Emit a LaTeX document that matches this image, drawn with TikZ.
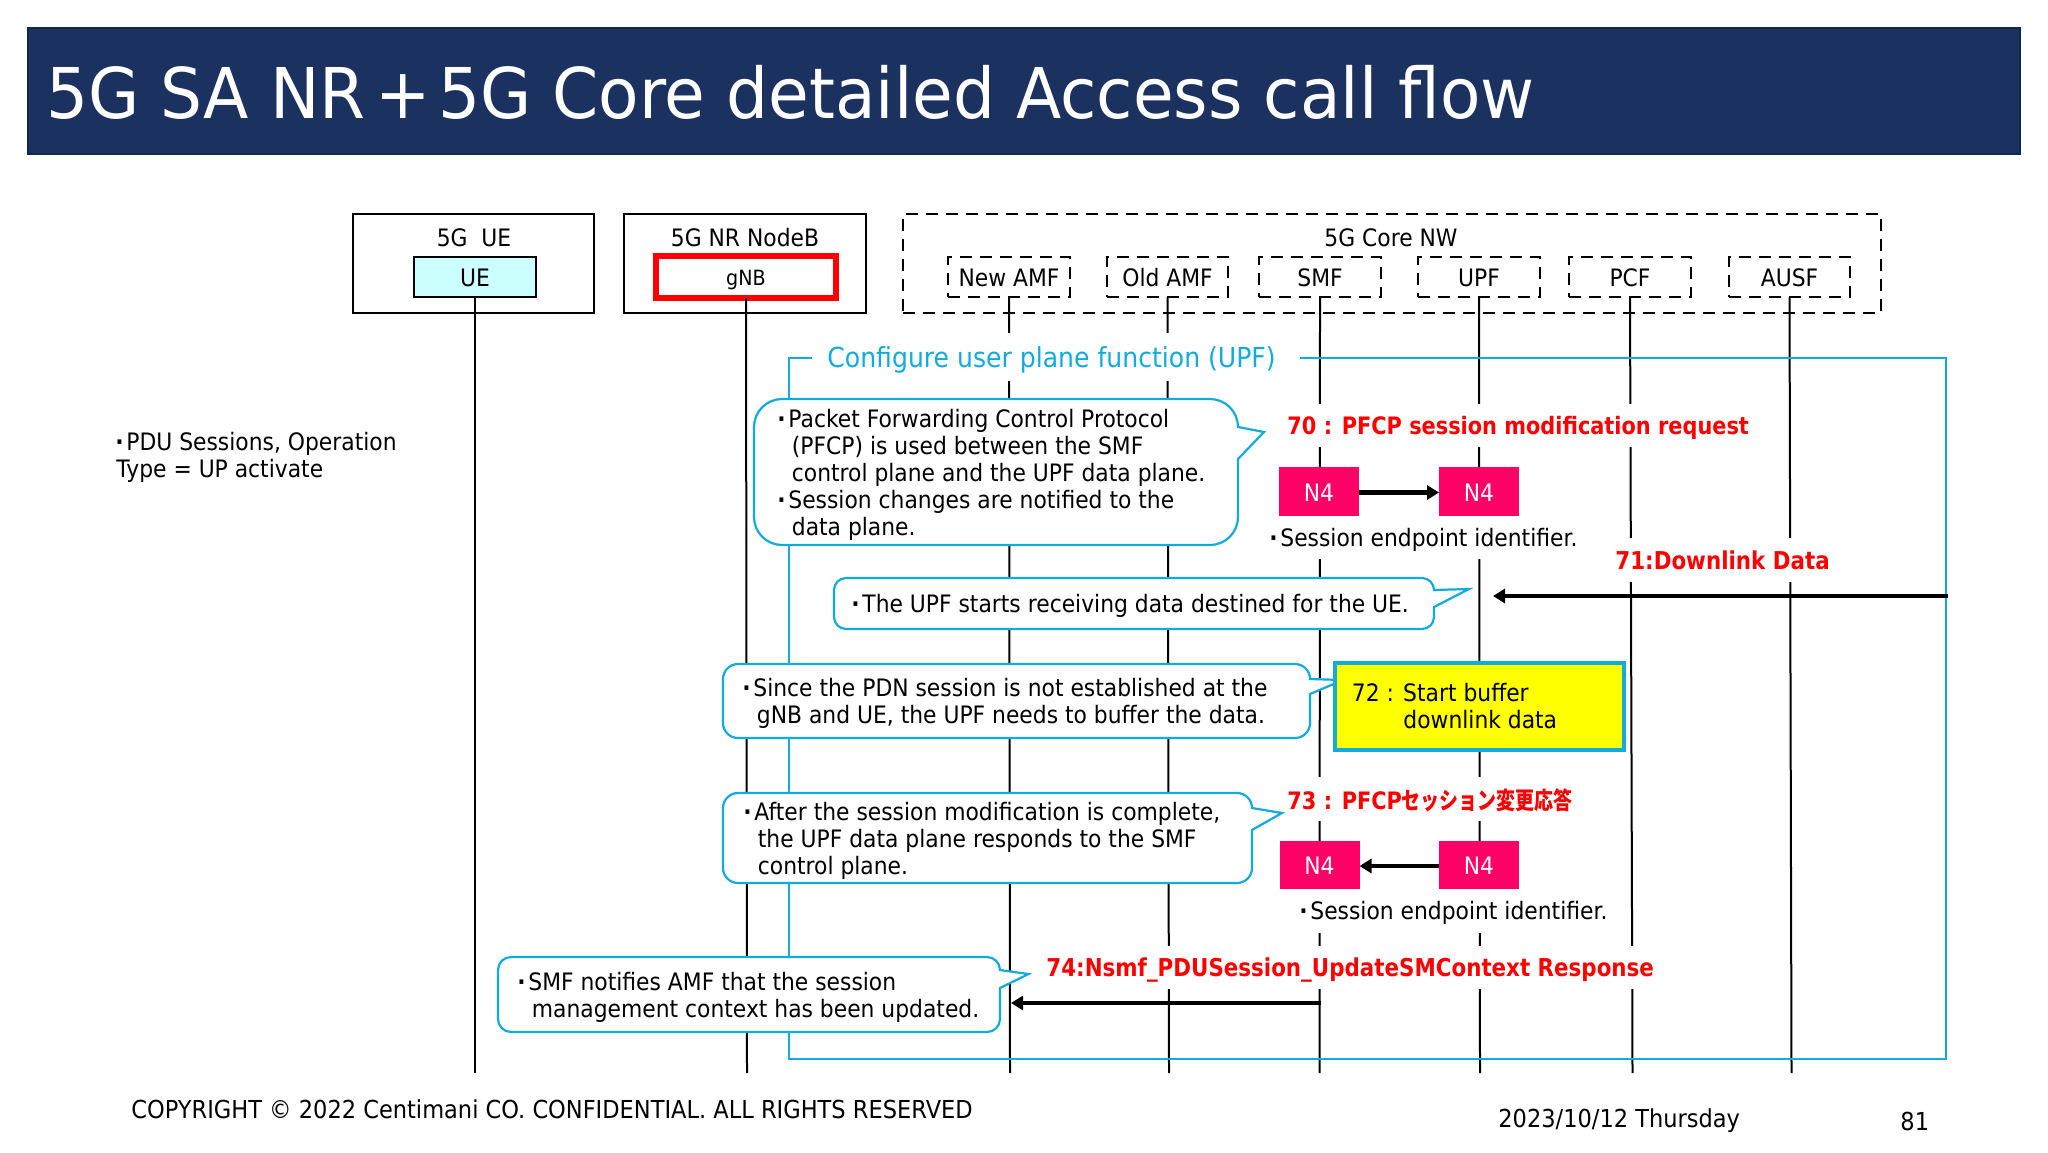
\documentclass[tikz,border=0pt]{standalone}
\usepackage{fontspec}
\usetikzlibrary{arrows.meta}
\setmainfont[FakeStretch=0.91]{DejaVu Sans}
\newfontfamily\cjkf[FakeStretch=0.79]{Noto Sans CJK JP}
\newfontfamily\titlef[FakeStretch=0.945]{DejaVu Sans}
\newfontfamily\redf[FakeStretch=0.87]{DejaVu Sans Bold}
\definecolor{navy}{HTML}{1B3160}
\definecolor{cb}{HTML}{12ABE0}
\definecolor{pk}{HTML}{FF0066}
\definecolor{lc}{HTML}{CCFFFF}
\definecolor{yy}{HTML}{FFFF00}
\definecolor{rd}{HTML}{FF0000}
\newcommand{\bu}{\makebox[4pt][l]{\kern-1.5pt\textbf{·}}}
\newcommand{\callout}[8]{% L T R B r basetop tip(x,y) basebot
  \draw[cout] ({#1+#5},#2) -- ({#3-#5},#2)
    .. controls ({#3-0.45*#5},#2) and (#3,{#2+0.45*#5}) .. (#3,{#2+#5}) -- (#3,#6)
    -- (#7) -- (#3,#8) -- (#3,{#4-#5})
    .. controls (#3,{#4-0.45*#5}) and ({#3-0.45*#5},#4) .. ({#3-#5},#4)
    -- ({#1+#5},#4)
    .. controls ({#1+0.45*#5},#4) and (#1,{#4-0.45*#5}) .. (#1,{#4-#5}) -- (#1,{#2+#5})
    .. controls (#1,{#2+0.45*#5}) and ({#1+0.45*#5},#2) .. ({#1+#5},#2) -- cycle;}
\tikzset{
  x=0.5pt,y=-0.5pt,
  box/.style={draw=black,line width=1pt,inner sep=0pt,outer sep=0pt},
  dbox/.style={box,dash pattern=on 6pt off 4pt,fill=white},
  life/.style={line width=1pt,black},
  cout/.style={draw=cb,line width=1.1pt,fill=white},
  txt/.style={inner sep=0pt,anchor=west,align=left,font=\fontsize{12}{13.5}\selectfont},
  foot/.style={inner sep=0pt,anchor=west,font=\fontsize{12.37}{14}\selectfont},
  ctr/.style={inner sep=0pt,font=\fontsize{12}{13.5}\selectfont},
  dnt/.style={text height=9.75pt,text depth=0pt},
  redl/.style={inner sep=0pt,anchor=west,text=rd,font=\redf\fontsize{12}{14}\selectfont},
  redm/.style={inner sep=0pt,anchor=west,text=rd,font=\redf\fontsize{12.3}{14}\selectfont},
  n4/.style={fill=pk,inner sep=0pt,outer sep=0pt,text=white,font=\fontsize{12}{13.5}\selectfont,dnt},
  arw/.style={line width=2.3pt,-{Triangle[length=6pt,width=7pt]}},
  mask/.style={fill=white,draw=none},
}
\newcommand{\bx}[5]{\node[#1,minimum width=#4*0.5pt,minimum height=#5*0.5pt] (#2) at (#3) }
\begin{document}
\begin{tikzpicture}
\useasboundingbox (0,0) rectangle (2048,1152);
\fill[white] (0,0) rectangle (2048,1152);
% title
\node[fill=navy,draw=navy!80!black,line width=1pt,minimum width=996pt,minimum height=63pt,inner sep=0pt] (titlebar) at (1023.5,90.5) {};
\node[inner sep=0pt,anchor=west,text=white,font=\titlef\fontsize{35}{40}\selectfont] (title) at (46,92) {5G SA NR\kern5pt+\kern3.5pt5G Core detailed Access call flow};
% outer boxes
\bx{box,ctr}{ueouter}{473.5,263.5}{241}{99} {};
\bx{box,ctr}{gnbouter}{744.75,263.5}{241.5}{99} {};
\bx{dbox}{core}{1392,263.5}{978}{99} {};
\node[ctr] (uetitle) at (474,238) {5G\ \ UE};
\node[ctr] (gnbtitle) at (745,238) {5G NR NodeB};
\node[ctr] (coretitle) at (1391,238) {5G Core NW};
% inner
\bx{box,ctr,dnt,fill=lc}{ue}{475,277}{122}{40} {UE};
\bx{draw=red,line width=2.8pt,outer sep=0pt}{gnb}{746,277}{180}{42} {};
\node[ctr,font=\fontsize{10.5}{12}\selectfont] (gnbt) at (746,280) {gNB};
\bx{dbox,ctr,dnt}{newamf}{1009,277}{122}{40} {New AMF};
\bx{dbox,ctr,dnt}{oldamf}{1167.5,277}{121}{40} {Old AMF};
\bx{dbox,ctr,dnt}{smf}{1320,277}{122}{40} {SMF};
\bx{dbox,ctr,dnt}{upf}{1479,277}{122}{40} {UPF};
\bx{dbox,ctr,dnt}{pcf}{1630,277}{122}{40} {PCF};
\bx{dbox,ctr,dnt}{ausf}{1789.5,277}{121}{40} {AUSF};
% lifeline ends
\coordinate (eue) at (475,1073);
\coordinate (egnb) at (747,1073);
\coordinate (enew) at (1010,1073);
\coordinate (eold) at (1169,1073);
\coordinate (esmf) at (1319.5,1073);
\coordinate (eupf) at (1480,1073);
\coordinate (epcf) at (1632.5,1073);
\coordinate (eausf) at (1791.5,1073);
\foreach \a/\b in {ue/eue,gnb/egnb,newamf/enew,oldamf/eold,smf/esmf,upf/eupf,pcf/epcf,ausf/eausf}
  \draw[life] (\a.south) -- (\b);
% frame
\draw[cb,line width=1pt] (812,358) -- (789,358) -- (789,1059) -- (1946,1059) -- (1946,358) -- (1300,358);
% masks
\fill[mask] (812,333) rectangle (1300,381);
\fill[mask] (1275,404) rectangle (1755,447);
\fill[mask] (1265,516) rectangle (1580,559);
\fill[mask] (1610,538) rectangle (1830,582);
\fill[mask] (1282,777) rectangle (1580,821);
\fill[mask] (1295,889) rectangle (1610,933);
\fill[mask] (1040,946) rectangle (1660,989);
% frame label and text
\node[inner sep=0pt,anchor=west,text=cb,font=\fontsize{13.8}{16}\selectfont] (cfg) at (827,360) {Configure user plane function (UPF)};
\node[txt] (pdu) at (118,457.5) {\bu PDU Sessions, Operation\\\hspace*{-1pt}Type = UP activate};
% callouts
\callout{754}{399}{1238}{545}{28}{427}{1264,432}{459}
\node[txt] (c1) at (780,475) {\bu Packet Forwarding Control Protocol\\\hspace*{5.75pt}(PFCP) is used between the SMF\\\hspace*{5.75pt}control plane and the UPF data plane.\\\bu Session changes are notified to the\\\hspace*{5.75pt}data plane.};
\callout{834}{578}{1434}{629}{12}{590}{1469,589}{607}
\node[txt] (c2) at (854,606) {\bu The UPF starts receiving data destined for the UE.};
\callout{723}{664}{1310}{738}{15}{679}{1343,680}{694}
\node[txt] (c3) at (745,703.5) {\bu Since the PDN session is not established at the\\\hspace*{5.75pt}gNB and UE, the UPF needs to buffer the data.};
\callout{723}{793}{1252}{883}{15}{808}{1282,813}{830}
\node[txt] (c4) at (746,841) {\bu After the session modification is complete,\\\hspace*{5.75pt}the UPF data plane responds to the SMF\\\hspace*{5.75pt}control plane.};
\callout{498}{957}{1000}{1032}{13}{970}{1028.5,974}{988}
\node[txt] (c5) at (520,997.5) {\bu SMF notifies AMF that the session\\\hspace*{5.75pt}management context has been updated.};
% yellow
\node[draw=cb,fill=yy,line width=2pt,minimum width=144.5pt,minimum height=43.5pt,inner sep=0pt] (y72) at (1479.25,706.5) {};
\node[txt] (t72) at (1351.5,706) {72 : Start buffer\\\hspace*{25.75pt}downlink data};
% N4 top
\bx{n4}{na}{1319,491.5}{80}{49} {N4};
\bx{n4}{nb}{1479,491.5}{80}{49} {N4};
\draw[arw] ([yshift=-0.5pt]na.east) -- ([yshift=-0.5pt]nb.west);
\bx{n4}{nc}{1319.5,865}{80}{48} {N4};
\bx{n4}{nd}{1479,865}{80}{48} {N4};
\draw[arw] ([yshift=-0.5pt]nd.west) -- ([yshift=-0.5pt]nc.east);
% red labels
\node[redl] (l70) at (1287,428) {70 : PFCP session modification request};
\node[redm] (l71) at (1615,560) {71:Downlink Data};
\node[redl] (l73) at (1287,800) {73 : PFCP{\cjkf\bfseries セッション変更応答}};
\node[redm] (l74) at (1046,970) {74:Nsmf\_PDUSession\_UpdateSMContext Response};
\node[txt] (s1) at (1272,540) {\bu Session endpoint identifier.};
\node[txt] (s2) at (1302,913) {\bu Session endpoint identifier.};
% long arrows
\coordinate (a71s) at (1948,596);
\coordinate (a71e) at (1493,596);
\draw[arw] (a71s) -- (a71e);
\coordinate (a74s) at (1321,1003);
\coordinate (a74e) at (1011,1003);
\draw[arw] (a74s) -- (a74e);
% footer
\node[foot] (copy) at (131,1109) {COPYRIGHT © 2022 Centimani CO. CONFIDENTIAL. ALL RIGHTS RESERVED};
\node[foot] (date) at (1498,1121) {2023/10/12 Thursday};
\node[foot] (page) at (1900,1121) {81};
\end{tikzpicture}
\end{document}
